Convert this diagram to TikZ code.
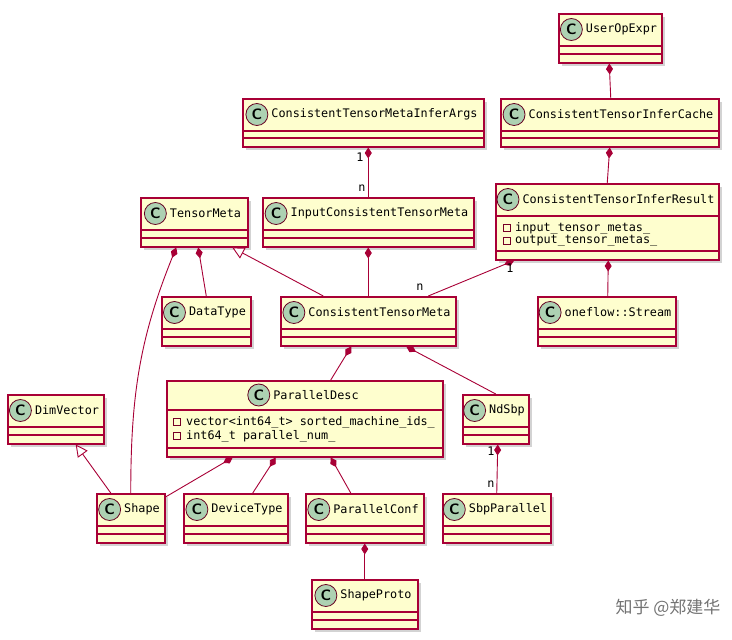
\documentclass[tikz,border=0pt]{standalone}
\usepackage{fontspec}
\setmonofont{DejaVu Sans Mono}
\newfontfamily\cjk{Noto Sans CJK SC}
\usetikzlibrary{arrows.meta,shadows,calc}
\definecolor{bd}{HTML}{A80036}
\definecolor{bg}{HTML}{FEFECE}
\definecolor{cc}{HTML}{ADD1B2}
\tikzset{
  box/.style={draw=bd,fill=bg,line width=1.5pt,inner sep=0pt,drop shadow={opacity=0.35,shadow xshift=3pt,shadow yshift=-3pt}},
  sep/.style={draw=bd,line width=1.2pt},
  ttl/.style={font=\ttfamily\fontsize{11.8}{13}\selectfont,inner sep=0pt},
  fld/.style={font=\ttfamily\fontsize{11.8}{13}\selectfont,inner sep=0pt,anchor=west},
  circ/.style={circle,draw=bd!60!black,fill=cc,line width=0.8pt,minimum size=22pt,inner sep=0pt,font=\sffamily\bfseries\fontsize{15}{15}\selectfont},
  comp/.style={draw=bd,line width=0.9pt,{Diamond[length=11pt,width=7pt,fill=bd]}-},
  inh/.style={draw=bd,line width=0.9pt,{Triangle[open,length=12pt,width=12pt,fill=white]}-},
  lbl/.style={font=\ttfamily\fontsize{11.8}{13}\selectfont,inner sep=0pt},
}
% name, x1,y1,x2,y2, title, header height
\newcommand\cls[7]{%
  \node[box,anchor=north west,minimum width=#4pt-#2pt,minimum height=#5pt-#3pt] (#1) at (#2,#3) {};
  \node[ttl] (#1t) at ({(#2+#4)/2+12},{#3+#7/2}) {#6};
  \node[circ,anchor=east] (#1c) at ([xshift=-3pt]#1t.west) {C};
  \draw[sep] (#2,#3+#7) -- (#4,#3+#7);
  \draw[sep] (#2,#5-8) -- (#4,#5-8);
}
\newcommand\mk[2]{\draw[bd!70!black,line width=0.6pt] (#1-3.5,#2-3.5) rectangle (#1+3.5,#2+3.5);}
\begin{document}
\begin{tikzpicture}[x=1pt,y=-1pt]
\useasboundingbox (0,0) rectangle (732,640);
\cls{uoe}{558}{13}{661}{62}{UserOpExpr}{33}
\cls{cache}{500}{98}{718}{146}{ConsistentTensorInferCache}{33}
\cls{args}{242}{98}{483}{146}{ConsistentTensorMetaInferArgs}{33}
\cls{tm}{140}{197}{247}{246}{TensorMeta}{33}
\cls{ictm}{262}{197}{473}{246}{InputConsistentTensorMeta}{33}
\cls{res}{495}{183}{718}{259}{ConsistentTensorInferResult}{33}
\mk{507}{228}\node[fld] at (515,228) {input\_tensor\_metas\_};
\mk{507}{241}\node[fld] at (515,241) {output\_tensor\_metas\_};
\cls{dt}{161}{296}{250}{345}{DataType}{33}
\cls{ctm}{280}{296}{455}{345}{ConsistentTensorMeta}{33}
\cls{st}{537}{296}{675}{345}{oneflow::Stream}{33}
\cls{dv}{7}{394}{103}{443}{DimVector}{33}
\cls{pd}{166}{380}{442}{456}{ParallelDesc}{30}
\mk{177}{422}\node[fld] at (186,422) {vector<int64\_t> sorted\_machine\_ids\_};
\mk{177}{436}\node[fld] at (186,436) {int64\_t parallel\_num\_};
\cls{nd}{462}{394}{528}{443}{NdSbp}{33}
\cls{sh}{96}{493}{164}{542}{Shape}{33}
\cls{dev}{183}{493}{287}{542}{DeviceType}{33}
\cls{pc}{305}{493}{423}{542}{ParallelConf}{33}
\cls{sbp}{442}{493}{550}{542}{SbpParallel}{33}
\cls{sp}{311}{579}{417}{628}{ShapeProto}{33}
% edges
\draw[comp] ([xshift=-1pt]uoe.south) -- ([xshift=1pt]cache.north);
\draw[comp] (cache.south) -- (res.north);
\draw[comp] ([xshift=5pt]args.south) -- (ictm.north);
\draw[comp] ([xshift=-18pt]tm.south) to[out=-112,in=90] (sh.north);
\draw[comp] ([xshift=4pt]tm.south) -- (dt.north);
\draw[inh] ([xshift=38pt]tm.south) -- ([xshift=-45pt]ctm.north);
\draw[comp] (ictm.south) -- (ctm.north);
\draw[comp] ([xshift=-93pt]res.south) -- ([xshift=60pt]ctm.north);
\draw[comp] ([xshift=1pt]res.south) -- ([xshift=1pt]st.north);
\draw[comp] ([xshift=-17pt]ctm.south) -- ([xshift=26pt]pd.north);
\draw[comp] ([xshift=38pt]ctm.south) -- (nd.north);
\draw[inh] ([xshift=20pt]dv.south) -- ([xshift=-20pt]sh.north);
\draw[comp] ([xshift=-72pt]pd.south) -- ([yshift=-4pt]sh.north east);
\draw[comp] ([xshift=-29pt]pd.south) -- ([xshift=17pt]dev.north);
\draw[comp] ([xshift=26pt]pd.south) -- ([xshift=-14pt]pc.north);
\draw[comp] ([xshift=2pt]nd.south) -- (sbp.north);
\draw[comp] (pc.south) -- (sp.north);
% multiplicities
\node[lbl] at (360,157) {1};
\node[lbl] at (362,188) {n};
\node[lbl] at (510,268) {1};
\node[lbl] at (420,287) {n};
\node[lbl] at (491,451) {1};
\node[lbl] at (491,484) {n};
\node[font=\cjk\fontsize{17}{17}\selectfont,text=black!55,anchor=east] at (724,608) {知乎 @郑建华};
\end{tikzpicture}
\end{document}
